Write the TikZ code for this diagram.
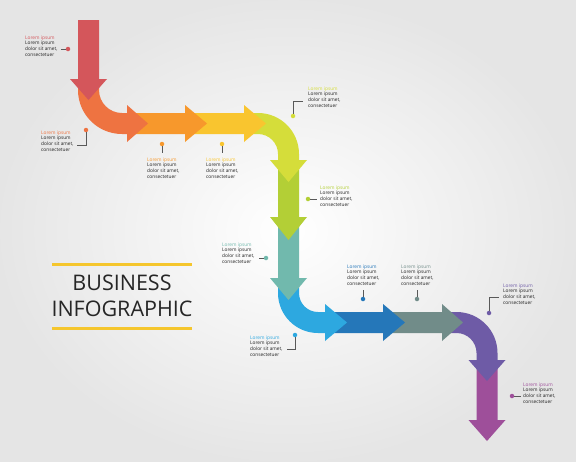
\documentclass[tikz,border=0pt]{standalone}
\usepackage{fontspec}
\setmainfont{Open Sans}
\newfontfamily\labfont{Open Sans}
\definecolor{cRed}{HTML}{D4565B}
\definecolor{cOrg}{HTML}{EE7341}
\definecolor{cLOrg}{HTML}{F7982C}
\definecolor{cYel}{HTML}{F9C52F}
\definecolor{cLime}{HTML}{D5DD3A}
\definecolor{cGrn}{HTML}{B3CF36}
\definecolor{cTeal}{HTML}{71B9AD}
\definecolor{cBlue}{HTML}{2DA8E0}
\definecolor{cDBlue}{HTML}{2577B9}
\definecolor{cGray}{HTML}{718C89}
\definecolor{cPur}{HTML}{6E5BA6}
\definecolor{cMag}{HTML}{9E4F9A}
\definecolor{cLine}{HTML}{F5C62D}
\definecolor{cTxt}{HTML}{222222}
\newcommand\vArrow[5]{\fill[#1] ({#2-10.5},#3) -- ({#2-10.5},#4) -- ({#2-18.5},#4) -- (#2,#5) -- ({#2+18.5},#4) -- ({#2+10.5},#4) -- ({#2+10.5},#3) -- cycle;}
\newcommand\hArrow[5]{\fill[#1] (#3,{#2-10.5}) -- (#4,{#2-10.5}) -- (#4,{#2-18.5}) -- (#5,#2) -- (#4,{#2+18.5}) -- (#4,{#2+10.5}) -- (#3,{#2+10.5}) -- cycle;}
\newcommand\lab[4]{\node[lbl] (#1) at (#2,#3) {{\color{#4}Lorem ipsum}\\Lorem ipsum\\dolor sit amet,\\consectetuer};}
\tikzset{
  lbl/.style={anchor=north west, inner sep=0pt, align=left, text=cTxt, font=\labfont\fontsize{4.8}{5.7}\selectfont},
  dot/.style={circle, inner sep=0pt, minimum size=4.5pt},
  conn/.style={draw=black!65, line width=0.6pt},
  title/.style={anchor=base, inner sep=0pt, text=black!85, font=\fontsize{21.5}{21.5}\selectfont},
  bar/.style={draw=cLine, line width=3pt}
}
\begin{document}
\begin{tikzpicture}[x=1pt,y=-1pt]
\useasboundingbox (0,0) rectangle (576,461);
\shade[inner color=white, outer color=black!10] (0,0) rectangle (576,461);

% arrows, drawn last-to-first so earlier ones lie on top
\vArrow{cMag}{487}{360}{420}{441}
% purple curve
\fill[cPur] (442,312) -- (456.5,312) arc[start angle=270, end angle=360, radius=41] -- (497.5,360) -- (505.5,360) -- (487,381) -- (468.5,360) -- (476.5,360) -- (476.5,353) arc[start angle=360, end angle=270, radius=20] -- (442,333) -- cycle;
\hArrow{cGray}{322.5}{383}{442}{463}
\hArrow{cDBlue}{322.5}{325}{383}{405}
% blue curve
\fill[cBlue] (278,278) -- (278,293) arc[start angle=180, end angle=90, radius=40] -- (325,333) -- (325,341) -- (347,322.5) -- (325,304) -- (325,312) -- (318,312) arc[start angle=90, end angle=180, radius=19] -- (299,278) -- cycle;
\vArrow{cTeal}{288.5}{217}{278}{300}
\vArrow{cGrn}{288.5}{160}{217}{240}
% lime curve
\fill[cLime] (244,113) -- (258,113) arc[start angle=270, end angle=360, radius=41] -- (299,160) -- (307,160) -- (288.5,182) -- (270,160) -- (278,160) -- (278,154) arc[start angle=360, end angle=270, radius=20] -- (244,134) -- cycle;
\hArrow{cYel}{123.5}{185}{244}{266}
\hArrow{cLOrg}{123.5}{127}{185}{207}
% orange curve
\fill[cOrg] (78,79) -- (78,90) arc[start angle=180, end angle=90, radius=44] -- (127,134) -- (127,142) -- (148,123.5) -- (127,105) -- (127,113) -- (122,113) arc[start angle=90, end angle=180, radius=23] -- (99,79) -- cycle;
\vArrow{cRed}{88.5}{20}{79}{100}

% labels
\lab{t1}{25}{35.5}{cRed}
\lab{t2}{41}{130.5}{cOrg}
\lab{t3}{147}{157.5}{cLOrg}
\lab{t4}{206}{157.5}{cYel}
\lab{t5}{308}{86.5}{cLime}
\lab{t6}{320}{185.5}{cGrn}
\lab{t7}{222}{242.5}{cTeal}
\lab{t8}{250}{335.5}{cBlue}
\lab{t9}{347}{264.5}{cDBlue}
\lab{t10}{401}{264.5}{cGray}
\lab{t11}{503}{283.5}{cPur}
\lab{t12}{523}{382.5}{cMag}

% dots
\node[dot, fill=cRed] (d1) at (68,49) {};
\node[dot, fill=cOrg] (d2) at (86,130) {};
\node[dot, fill=cLOrg] (d3) at (162,144) {};
\node[dot, fill=cYel] (d4) at (222,144) {};
\node[dot, fill=cLime] (d5) at (293,116) {};
\node[dot, fill=cGrn] (d6) at (308,199) {};
\node[dot, fill=cTeal] (d7) at (266,258) {};
\node[dot, fill=cBlue] (d8) at (295,335) {};
\node[dot, fill=cDBlue] (d9) at (363,299) {};
\node[dot, fill=cGray] (d10) at (417,299) {};
\node[dot, fill=cPur] (d11) at (489,313) {};
\node[dot, fill=cMag] (d12) at (512,396) {};

% connector ends
\coordinate (e1) at (61,49);
\coordinate (e2) at (77,145);
\coordinate (e3) at (162,153);
\coordinate (e4) at (222,153);
\coordinate (e5) at (303,101);
\coordinate (e6) at (317,199);
\coordinate (e7) at (259,258);
\coordinate (e8) at (287,349);
\coordinate (e9) at (363,290);
\coordinate (e10) at (417,290);
\coordinate (e11) at (499,297);
\coordinate (e12) at (521,396);

\draw[conn] (d1) -- (e1);
\draw[conn] (d2) |- (e2);
\draw[conn] (d3) -- (e3);
\draw[conn] (d4) -- (e4);
\draw[conn] (d5) |- (e5);
\draw[conn] (d6) -- (e6);
\draw[conn] (d7) -- (e7);
\draw[conn] (d8) |- (e8);
\draw[conn] (d9) -- (e9);
\draw[conn] (d10) -- (e10);
\draw[conn] (d11) |- (e11);
\draw[conn] (d12) -- (e12);

% title block
\coordinate (b1a) at (52,264.5);
\coordinate (b1b) at (192,264.5);
\coordinate (b2a) at (52,328);
\coordinate (b2b) at (192,328);
\draw[bar] (b1a) -- (b1b);
\draw[bar] (b2a) -- (b2b);
\node[title] (bus) at (122,290) {BUSINESS};
\node[title] (info) at (122,316) {INFOGRAPHIC};
\end{tikzpicture}
\end{document}
